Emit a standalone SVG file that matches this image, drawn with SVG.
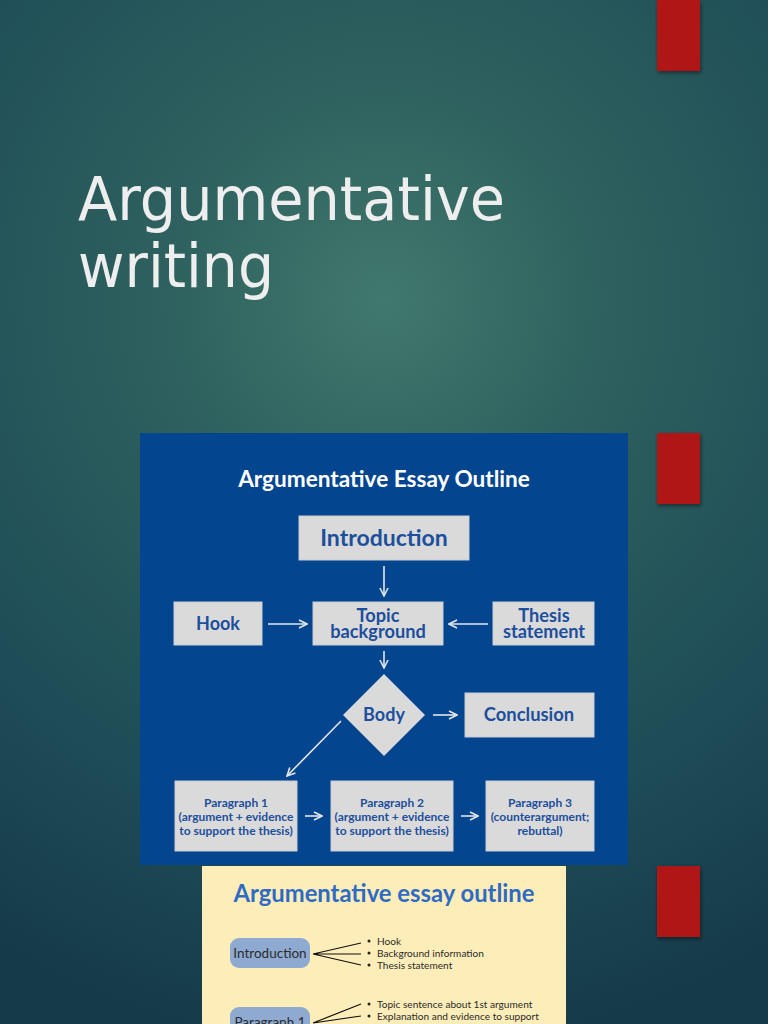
<svg xmlns="http://www.w3.org/2000/svg" width="768" height="1024" viewBox="0 0 768 1024">
<defs>
<radialGradient id="bg" cx="384" cy="300" r="760" gradientUnits="userSpaceOnUse">
<stop offset="0" stop-color="#41786d"/>
<stop offset="0.3" stop-color="#2d605e"/>
<stop offset="0.7" stop-color="#1e4c57"/>
<stop offset="1" stop-color="#153a48"/>
</radialGradient>
<filter id="sh" x="-30%" y="-30%" width="160%" height="160%">
<feDropShadow dx="1" dy="2" stdDeviation="2" flood-color="#000" flood-opacity="0.45"/>
</filter>
<marker id="ah" viewBox="0 0 10 10" refX="9" refY="5" markerWidth="10" markerHeight="10" markerUnits="userSpaceOnUse" orient="auto">
<path d="M1,1 L9,5 L1,9" fill="none" stroke="#e4e6ea" stroke-width="1.6"/>
</marker>
</defs>
<style>
.box{fill:#dadada;stroke:#c8ccd4;stroke-width:1}
.bt{font-family:Lato,"Open Sans",sans-serif;font-weight:bold;fill:#1c4f9c;text-anchor:middle}
.conn line{stroke:#e4e6ea;stroke-width:1.6;marker-end:url(#ah)}
.red{fill:#b01916;filter:url(#sh)}
.yt{font-family:Lato,"Open Sans",sans-serif;fill:#2b2b2b;font-size:10.1px}
</style>
<rect width="768" height="1024" fill="url(#bg)"/>
<rect class="red" x="657" y="0" width="43" height="71"/>
<rect class="red" x="657" y="433" width="43" height="71"/>
<rect class="red" x="657" y="866" width="43" height="71"/>
<g id="title" font-family="'DejaVu Sans',sans-serif" font-size="60" fill="#eeeeee">
<text x="78" y="220" textLength="427" lengthAdjust="spacingAndGlyphs">Argumentative</text>
<text x="78" y="287" textLength="196" lengthAdjust="spacingAndGlyphs">writing</text>
</g>
<rect x="140" y="433" width="488" height="432" fill="#04458f"/>
<text x="384" y="487" font-family="Lato,'Open Sans',sans-serif" font-weight="bold" font-size="22.6" fill="#ffffff" text-anchor="middle">Argumentative Essay Outline</text>
<g id="introduction"><rect class="box" x="299" y="516" width="170" height="44"/><text class="bt" x="384" y="546" font-size="23">Introduction</text></g>
<g id="hook"><rect class="box" x="174" y="602" width="88" height="43"/><text class="bt" x="218" y="630" font-size="18">Hook</text></g>
<g id="topic"><rect class="box" x="313" y="602" width="130" height="43"/><text class="bt" x="378" y="622" font-size="18.2">Topic</text><text class="bt" x="378" y="638" font-size="18.2">background</text></g>
<g id="thesis"><rect class="box" x="493" y="602" width="101" height="43"/><text class="bt" x="544" y="622" font-size="18.2">Thesis</text><text class="bt" x="544" y="638" font-size="18.2">statement</text></g>
<g id="body"><polygon points="384,674 425,715 384,756 343,715" fill="#dadada"/><text class="bt" x="384" y="721" font-size="18">Body</text></g>
<g id="conclusion"><rect class="box" x="465" y="693" width="129" height="44"/><text class="bt" x="529" y="721" font-size="18.4">Conclusion</text></g>
<g id="p1"><rect class="box" x="175" y="781" width="122" height="70"/><text class="bt" x="236" y="807" font-size="12">Paragraph 1</text><text class="bt" x="236" y="821" font-size="12">(argument + evidence</text><text class="bt" x="236" y="835" font-size="12">to support the thesis)</text></g>
<g id="p2"><rect class="box" x="331" y="781" width="122" height="70"/><text class="bt" x="392" y="807" font-size="12">Paragraph 2</text><text class="bt" x="392" y="821" font-size="12">(argument + evidence</text><text class="bt" x="392" y="835" font-size="12">to support the thesis)</text></g>
<g id="p3"><rect class="box" x="486" y="781" width="108" height="70"/><text class="bt" x="540" y="807" font-size="12">Paragraph 3</text><text class="bt" x="540" y="821" font-size="12">(counterargument;</text><text class="bt" x="540" y="835" font-size="12">rebuttal)</text></g>
<g class="conn" id="connectors">
<line x1="384" y1="566" x2="384" y2="596"/>
<line x1="268" y1="624" x2="307" y2="624"/>
<line x1="488" y1="624" x2="449" y2="624"/>
<line x1="384" y1="651" x2="384" y2="668"/>
<line x1="433" y1="715" x2="457" y2="715"/>
<line x1="341" y1="721" x2="287" y2="776"/>
<line x1="305" y1="816" x2="322" y2="816"/>
<line x1="461" y1="816" x2="478" y2="816"/>
</g>
<rect x="202" y="866" width="364" height="158" fill="#fdedb9"/>
<text x="384" y="902" font-family="Lato,'Open Sans',sans-serif" font-weight="bold" font-size="23.8" fill="#2f6bc4" text-anchor="middle">Argumentative essay outline</text>
<g id="intro2"><rect x="230" y="938" width="80" height="30" rx="9" fill="#8eaad0"/><text x="270" y="958" font-family="Lato,'Open Sans',sans-serif" font-size="13.5" fill="#2b2b2b" text-anchor="middle">Introduction</text></g>
<g id="para1"><rect x="230" y="1007" width="80" height="30" rx="9" fill="#8eaad0"/><text x="270" y="1027" font-family="Lato,'Open Sans',sans-serif" font-size="13.5" fill="#2b2b2b" text-anchor="middle">Paragraph 1</text></g>
<g id="fan" stroke="#111" stroke-width="1.2" fill="none">
<path d="M313,954 L361,943 M313,954 L361,954 M313,954 L361,965"/>
<path d="M313,1023 L361,1004 M313,1023 L361,1016"/>
</g>
<g fill="#222"><circle cx="369" cy="941" r="1.5"/><circle cx="369" cy="953" r="1.5"/><circle cx="369" cy="965" r="1.5"/><circle cx="369" cy="1004" r="1.5"/><circle cx="369" cy="1016" r="1.5"/></g>
<text class="yt" x="377" y="945">Hook</text>
<text class="yt" x="377" y="957">Background information</text>
<text class="yt" x="377" y="969">Thesis statement</text>
<text class="yt" x="377" y="1008">Topic sentence about 1st argument</text>
<text class="yt" x="377" y="1020">Explanation and evidence to support</text>
</svg>
